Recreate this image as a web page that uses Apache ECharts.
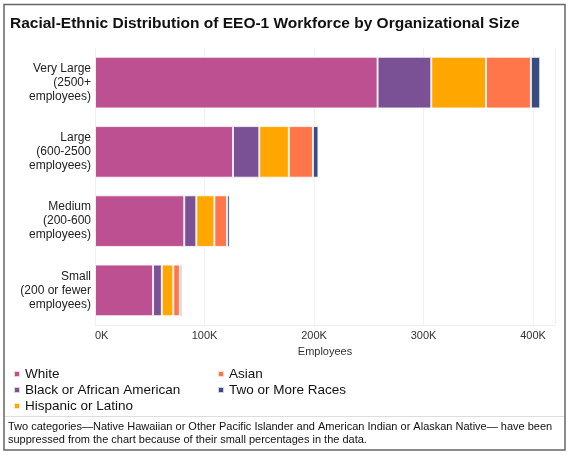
<!DOCTYPE html>
<html>
<head>
<meta charset="utf-8">
<script src="https://cdn.jsdelivr.net/npm/echarts@6/dist/echarts.min.js"></script>
<style>
  html, body { margin: 0; padding: 0; background: #fff; }
  #chart { width: 570px; height: 456px; }
</style>
</head>
<body>
<div id="chart"></div>
<script>
// org size categories, top to bottom
const sizes = [
  "Very Large\n(2500+\nemployees)",
  "Large\n(600-2500\nemployees)",
  "Medium\n(200-600\nemployees)",
  "Small\n(200 or fewer\nemployees)"
];

// employees per group
const white = [258000, 126000, 81500, 53000];
const black = [49000, 24000, 11000, 8000];
const hispanic = [50000, 27000, 16500, 10500];
const asian = [41000, 22000, 11500, 6000];
const twoOrMore = [8500, 5000, 2500, 2000];

const xTicks = [0, 100000, 200000, 300000, 400000];

const FONT = 'Arial, "Liberation Sans", sans-serif';

const groups = [
  { name: "White", color: "#bc5090", data: white },
  { name: "Black or African American", color: "#7a5195", data: black },
  { name: "Hispanic or Latino", color: "#ffa600", data: hispanic },
  { name: "Asian", color: "#ff764a", data: asian },
  { name: "Two or More Races", color: "#374c80", data: twoOrMore }
];

const chart = echarts.init(document.getElementById("chart"), null, { renderer: "canvas" });

const legendCommon = {
  orient: "vertical",
  icon: "rect",
  itemWidth: 6,
  itemHeight: 6,
  itemGap: 2,
  padding: 0,
  textStyle: { fontFamily: FONT, fontSize: 13.5, color: "#111", lineHeight: 14 }
};

chart.setOption({
  animation: false,
  textStyle: { fontFamily: FONT },
  title: {
    text: "Racial-Ethnic Distribution of EEO-1 Workforce by Organizational Size",
    left: 10,
    top: 16,
    padding: 0,
    textStyle: { fontFamily: FONT, fontSize: 15.5, fontWeight: "bold", color: "#111" }
  },
  legend: [
    Object.assign({}, legendCommon, {
      left: 13, top: 367,
      data: ["White", "Black or African American", "Hispanic or Latino"]
    }),
    Object.assign({}, legendCommon, {
      left: 217, top: 367,
      data: ["Asian", "Two or More Races"]
    })
  ],
  grid: { left: 95, right: 15, top: 48, bottom: 131, containLabel: false },
  xAxis: {
    type: "value",
    min: 0,
    max: 420000,
    interval: 100000,
    name: "Employees",
    nameLocation: "middle",
    nameGap: 21,
    nameTextStyle: { fontFamily: FONT, fontSize: 11, color: "#333" },
    axisLine: { show: true, lineStyle: { color: "#eeeeee" } },
    axisTick: { show: false },
    splitLine: { lineStyle: { color: "#f1f1f1" } },
    axisLabel: {
      fontFamily: FONT,
      fontSize: 11,
      color: "#333",
      margin: 5,
      showMaxLabel: false,
      alignMinLabel: "left",
      formatter: v => xTicks.indexOf(v) >= 0 ? (v / 1000) + "K" : ""
    }
  },
  yAxis: {
    type: "category",
    inverse: true,
    data: sizes,
    axisLine: { show: false },
    axisTick: { show: false },
    axisLabel: {
      fontFamily: FONT,
      fontSize: 12,
      lineHeight: 14,
      color: "#222",
      margin: 4,
      align: "right"
    }
  },
  series: groups.map(g => ({
    name: g.name,
    type: "bar",
    stack: "total",
    barCategoryGap: "25.5%",
    itemStyle: { color: g.color, borderColor: "rgba(255,255,255,0.75)", borderWidth: 1 },
    data: g.data
  })),
  graphic: [
    {
      type: "rect",
      shape: { x: 4, y: 4.5, width: 561, height: 445.5 },
      style: { fill: "none", stroke: "#666", lineWidth: 1.5 },
      silent: true
    },
    {
      type: "line",
      shape: { x1: 5, y1: 416.5, x2: 564, y2: 416.5 },
      style: { stroke: "#dddddd", lineWidth: 1 },
      silent: true
    },
    {
      type: "text",
      left: 8,
      top: 421,
      style: {
        text: "Two categories\u2014Native Hawaiian or Other Pacific Islander and American Indian or Alaskan Native\u2014 have been\nsuppressed from the chart because of their small percentages in the data.",
        font: "11px " + FONT,
        lineHeight: 12.5,
        fill: "#111"
      }
    }
  ]
});
</script>
</body>
</html>
